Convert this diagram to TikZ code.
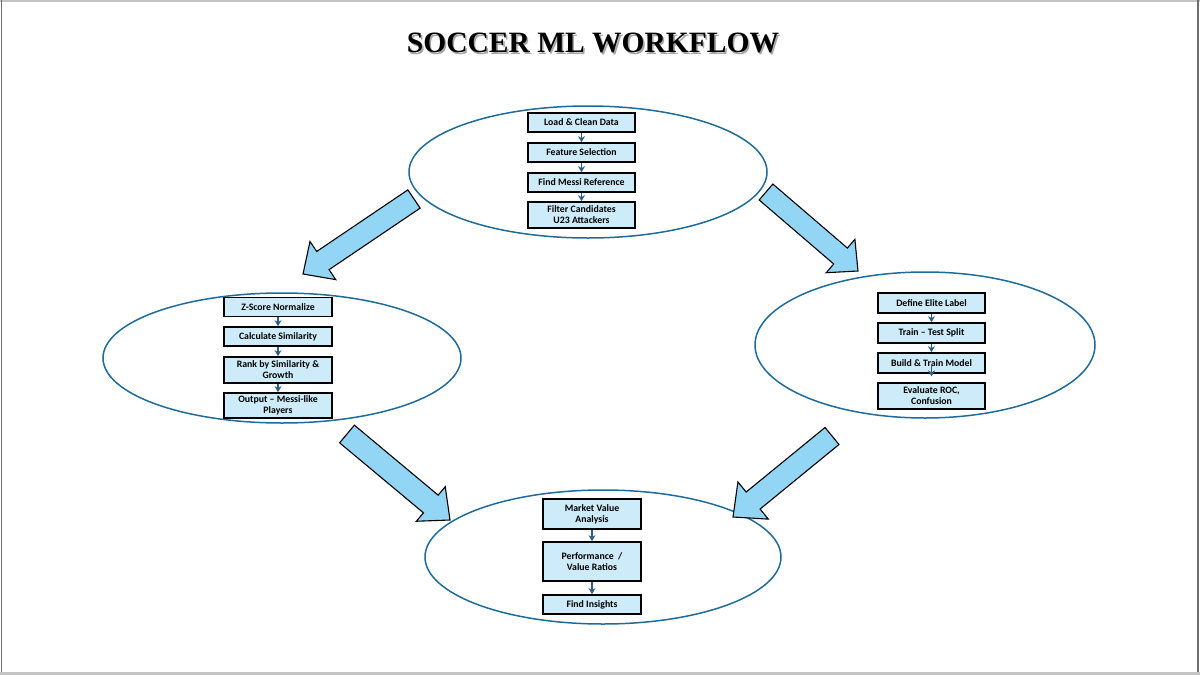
\documentclass[tikz,border=0pt]{standalone}
\usepackage{fontspec}
\setmainfont{Carlito}
\newfontfamily\titlefont{Liberation Serif}
\usetikzlibrary{calc,arrows.meta,shapes.geometric}
\definecolor{boxfill}{HTML}{CDEBF8}
\definecolor{arrowfill}{HTML}{92D5F5}
\definecolor{ellline}{HTML}{1F6C9B}
\definecolor{flowcol}{HTML}{2B5E8C}
\definecolor{framedark}{HTML}{6E6E6E}
\definecolor{framelight}{HTML}{C4C4C4}
% #1 tail centre, #2 tip, #3 half shaft width, #4 half head width, #5 head length
\newcommand{\blockarrow}[5]{%
  \coordinate (ba-h) at ($(#2)!#5!(#1)$);
  \draw[bigarrow] ($(#1)!#3!90:(#2)$) -- ($(ba-h)!#3!90:(#2)$) -- ($(ba-h)!#4!90:(#2)$) -- (#2)
     -- ($(ba-h)!#4!-90:(#2)$) -- ($(ba-h)!#3!-90:(#2)$) -- ($(#1)!#3!-90:(#2)$) -- cycle;}
\begin{document}
\begin{tikzpicture}[x=1pt,y=-1pt,
  stepbox/.style={draw=black, line width=1.7pt, fill=boxfill, inner sep=0pt, align=center,
    font=\fontsize{9.8}{11}\selectfont\bfseries},
  phase/.style={draw=ellline, line width=1.5pt, ellipse, inner sep=0pt},
  flow/.style={draw=flowcol, line width=1.3pt, -{Stealth[length=6pt,width=7pt]}},
  bigarrow/.style={draw=black, line width=1.1pt, fill=arrowfill, line join=miter}]
\useasboundingbox (0,0) rectangle (1200,675);
\fill[white] (0,0) rectangle (1200,675);
% frame
\draw[framelight, line width=2pt] (0,1) -- (1200,1);
\draw[framelight, line width=3pt] (0,673) -- (1200,673);
\draw[framedark, line width=1.5pt] (1.5,0) -- (1.5,672);
\draw[framedark, line width=2pt] (1197.5,0) -- (1197.5,672);

% title
\node (title) at (593,44) {\titlefont\bfseries\fontsize{29.5}{30}\selectfont
  \makebox[0pt][l]{\hspace{1.6pt}\raisebox{-1.6pt}{\color{gray!70}SOCCER ML WORKFLOW}}SOCCER ML WORKFLOW};

% ellipses
\node[phase, minimum width=358pt, minimum height=132pt] (etop) at (588,172) {};
\node[phase, minimum width=358pt, minimum height=130pt] (eleft) at (282,358) {};
\node[phase, minimum width=340pt, minimum height=146pt] (eright) at (925,345) {};
\node[phase, minimum width=356pt, minimum height=134pt] (ebottom) at (603,557) {};

% big arrows
\coordinate (a1t) at (414,199); \coordinate (a1p) at (303,274);
\coordinate (a2t) at (347,434); \coordinate (a2p) at (450,520);
\coordinate (a3t) at (766,192); \coordinate (a3p) at (858,271);
\coordinate (a4t) at (832,436); \coordinate (a4p) at (733,517);
\blockarrow{a1t}{a1p}{11pt}{23pt}{24pt}
\blockarrow{a2t}{a2p}{11.5pt}{22.5pt}{25pt}
\blockarrow{a3t}{a3p}{10.5pt}{22pt}{23pt}
\blockarrow{a4t}{a4p}{11pt}{24pt}{26pt}

% top ellipse boxes
\node[stepbox, minimum width=107pt, minimum height=19pt] (load) at (581.5,122.5) {Load \& Clean Data};
\node[stepbox, minimum width=107pt, minimum height=19pt] (feat) at (581.5,152.5) {Feature Selection};
\node[stepbox, minimum width=107pt, minimum height=19pt] (messi) at (581.5,182.5) {Find Messi Reference};
\node[stepbox, minimum width=107pt, minimum height=26pt] (filter) at (581.5,215) {Filter Candidates\\U23 Attackers};
\draw[flow] (load) -- (feat);
\draw[flow] (feat) -- (messi);
\draw[flow] (messi) -- (filter);

% left ellipse boxes
\node[stepbox, minimum width=108pt, minimum height=19pt] (zs) at (278,307) {Z-Score Normalize};
\node[stepbox, minimum width=108pt, minimum height=19pt] (calc) at (278,336.5) {Calculate Similarity};
\node[stepbox, minimum width=108pt, minimum height=26pt] (rank) at (278,370) {Rank by Similarity \&\\Growth};
\node[stepbox, minimum width=108pt, minimum height=25pt] (out) at (278,405.5) {Output -- Messi-like\\Players};
\draw[flow] (zs) -- (calc);
\draw[flow] (calc) -- (rank);
\draw[flow] (rank) -- (out);

% right ellipse boxes
\node[stepbox, minimum width=107pt, minimum height=20pt] (elite) at (931.5,303) {Define Elite Label};
\node[stepbox, minimum width=107pt, minimum height=20pt] (split) at (931.5,333) {Train -- Test Split};
\node[stepbox, minimum width=107pt, minimum height=20pt] (build) at (931.5,363) {Build \& Train Model};
\node[stepbox, minimum width=107pt, minimum height=26pt] (eval) at (931.5,396) {Evaluate ROC,\\Confusion};
\draw[flow] (elite) -- (split);
\draw[flow] (split) -- (build);
\draw[flow] ([yshift=10pt]build.south) -- ([yshift=-2.5pt]build.south);

% bottom ellipse boxes
\node[stepbox, minimum width=98pt, minimum height=30pt] (market) at (592,514) {Market Value\\Analysis};
\node[stepbox, minimum width=98pt, minimum height=39pt] (perf) at (592,561.5) {Performance\ \ /\\Value Ratios};
\node[stepbox, minimum width=98pt, minimum height=19pt] (insight) at (592,604.5) {Find Insights};
\draw[flow] (market) -- (perf);
\draw[flow] (perf) -- (insight);
\end{tikzpicture}
\end{document}
